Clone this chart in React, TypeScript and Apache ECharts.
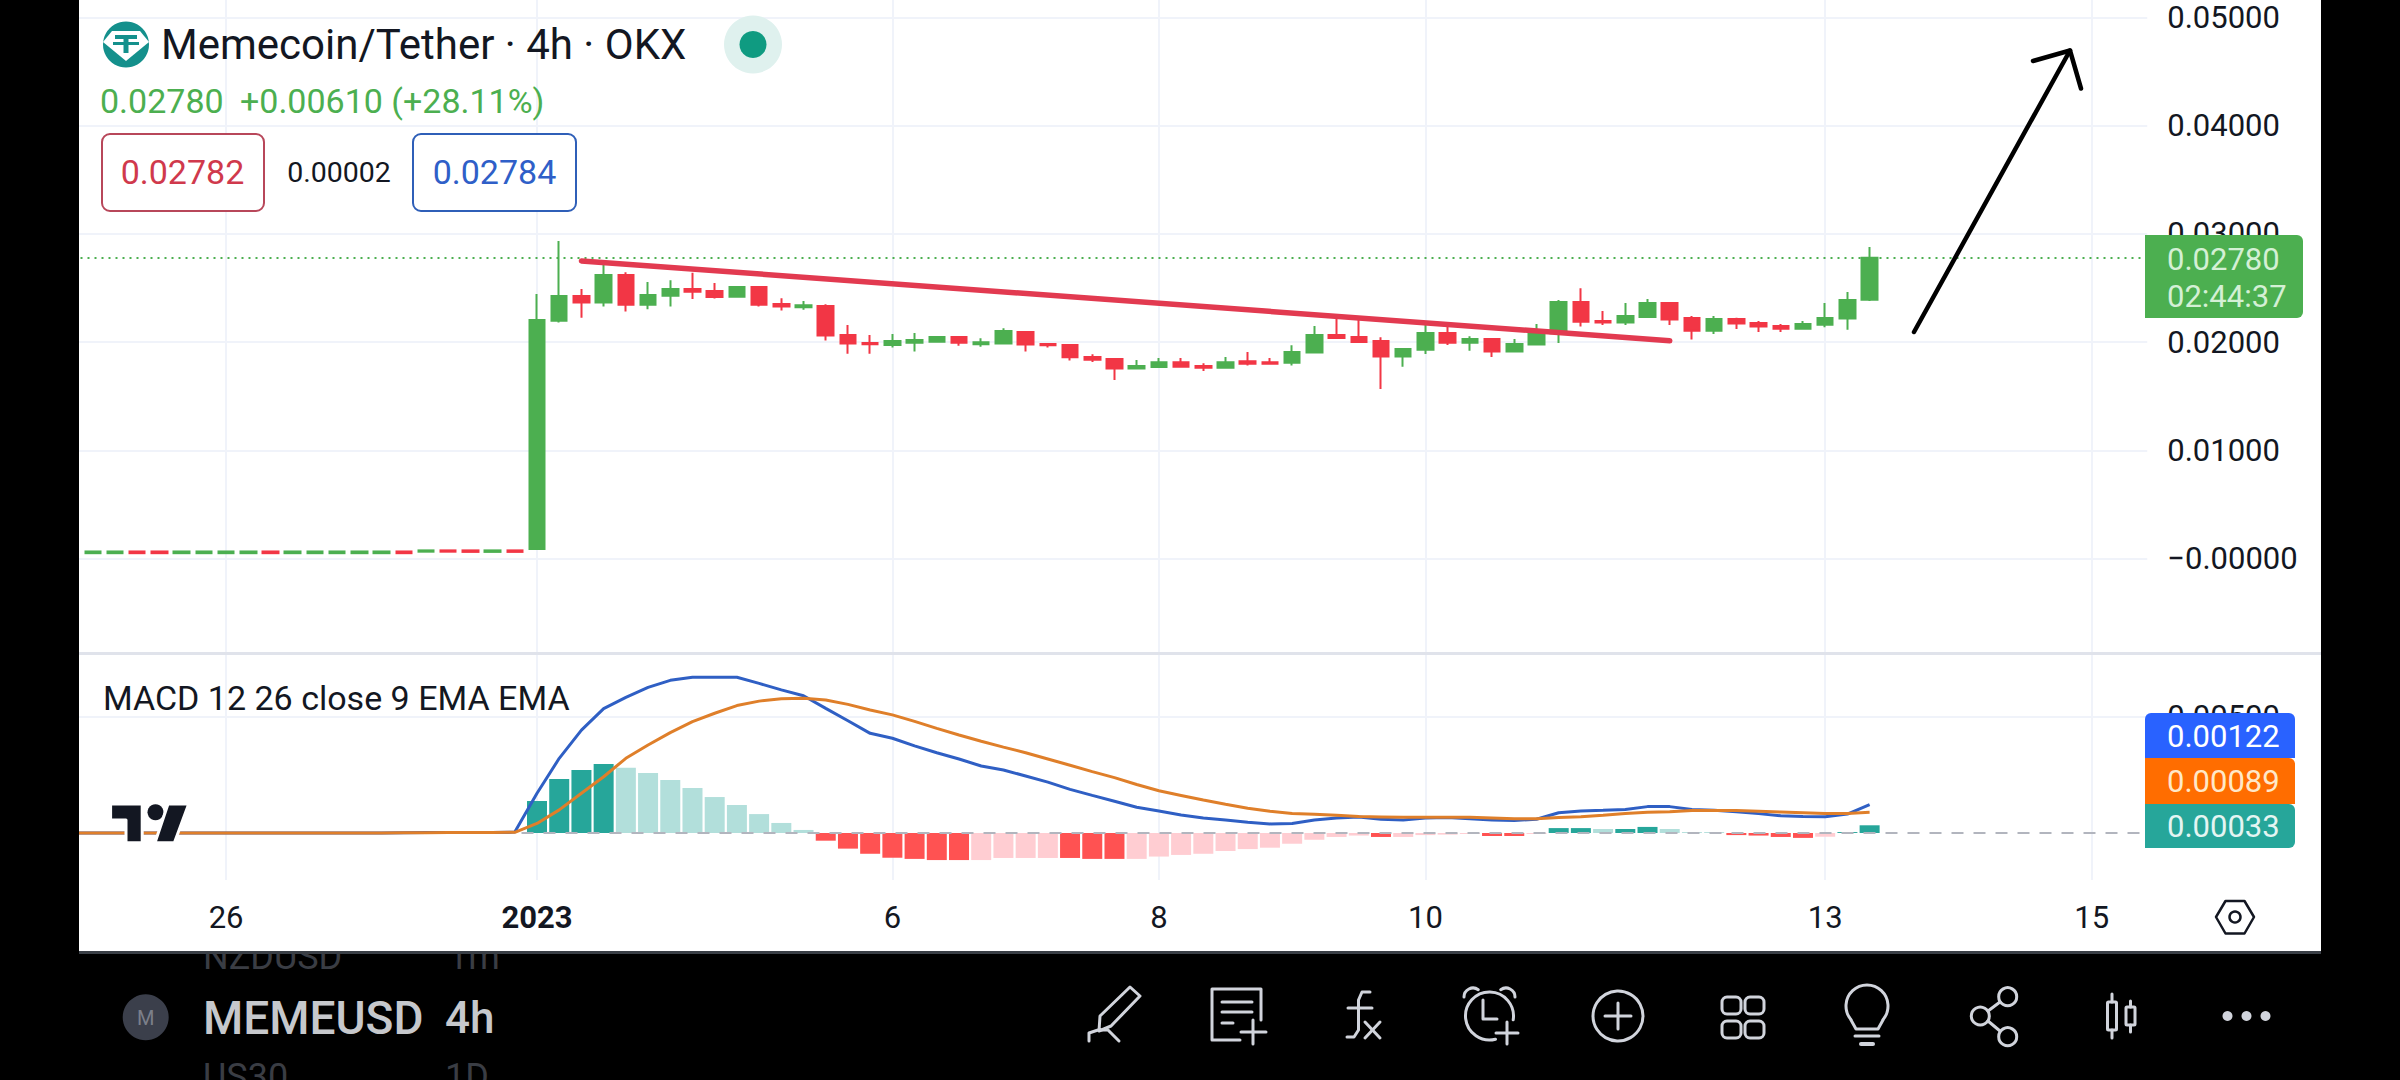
import React, { useEffect, useRef } from "react";
import * as echarts from "echarts";

// open, close, low, high for bars 0..80
const candles: number[][] = [
  [0.00049,0.00065,0.00049,0.00065],[0.00049,0.00065,0.00049,0.00065],[0.00065,0.00049,0.00049,0.00065],[0.00065,0.00049,0.00049,0.00065],
  [0.00049,0.00065,0.00049,0.00065],[0.00049,0.00065,0.00049,0.00065],[0.00049,0.00065,0.00049,0.00065],[0.00049,0.00065,0.00049,0.00065],
  [0.00065,0.00049,0.00049,0.00065],[0.00049,0.00065,0.00049,0.00065],[0.00049,0.00065,0.00049,0.00065],[0.00049,0.00065,0.00049,0.00065],
  [0.00049,0.00065,0.00049,0.00065],[0.00049,0.00065,0.00049,0.00065],[0.00065,0.00049,0.00049,0.00065],[0.00063,0.00075,0.00063,0.00075],
  [0.00075,0.00063,0.00063,0.00075],[0.00075,0.00061,0.00061,0.00075],[0.00061,0.00075,0.00061,0.00075],[0.00075,0.00061,0.00061,0.00075],
  [0.00088,0.02205,0.00088,0.02445],[0.02198,0.02426,0.0218,0.02934],[0.02426,0.02365,0.02226,0.02491],[0.02365,0.0262,0.02328,0.02713],
  [0.0262,0.02346,0.02282,0.02645],[0.02346,0.02436,0.02303,0.02556],[0.02429,0.02491,0.02328,0.02571],[0.02491,0.02466,0.02399,0.02642],
  [0.02473,0.02417,0.02402,0.02546],[0.0242,0.0251,0.02417,0.02519],[0.0251,0.02346,0.02328,0.02513],[0.02352,0.02328,0.02291,0.02405],
  [0.02322,0.0234,0.023,0.0238],[0.02334,0.0206,0.02014,0.02349],[0.02066,0.01986,0.01893,0.02158],[0.01992,0.0198,0.01893,0.02066],
  [0.01973,0.0201,0.01949,0.02075],[0.01995,0.0202,0.01912,0.02084],[0.02004,0.02047,0.01995,0.02057],[0.02047,0.01995,0.01967,0.0205],
  [0.0198,0.01998,0.01958,0.02035],[0.01986,0.02103,0.01977,0.02128],[0.02094,0.01977,0.01912,0.02097],[0.01983,0.0197,0.01949,0.01983],
  [0.01973,0.0186,0.01829,0.01983],[0.01863,0.01838,0.01816,0.01887],[0.01844,0.01755,0.0165,0.0185],[0.01755,0.0178,0.01752,0.01835],
  [0.0177,0.01813,0.01764,0.01853],[0.01813,0.01773,0.0177,0.01853],[0.0178,0.01764,0.01733,0.01804],[0.01764,0.01813,0.01758,0.01863],
  [0.01823,0.01801,0.01783,0.01909],[0.01813,0.01801,0.01798,0.01853],[0.0181,0.01909,0.01783,0.0197],[0.01903,0.02066,0.01903,0.02149],
  [0.02066,0.02038,0.02032,0.02251],[0.02047,0.02001,0.01995,0.02205],[0.0201,0.01866,0.01567,0.02044],[0.01866,0.01937,0.01773,0.01946],
  [0.0193,0.02084,0.0189,0.02161],[0.02084,0.01995,0.01973,0.02143],[0.01995,0.02029,0.01921,0.02054],[0.02029,0.01912,0.01863,0.02038],
  [0.01912,0.01983,0.01909,0.02029],[0.01977,0.02094,0.01973,0.02168],[0.02081,0.02371,0.01992,0.02389],[0.02371,0.02189,0.02143,0.02497],
  [0.02195,0.0218,0.02158,0.02288],[0.0218,0.02241,0.02158,0.02362],[0.02232,0.02362,0.02229,0.02399],[0.02362,0.02208,0.02158,0.02371],
  [0.02223,0.02106,0.02023,0.02241],[0.02106,0.02214,0.02075,0.02241],[0.02214,0.02171,0.02121,0.02226],[0.02177,0.02143,0.02094,0.02195],
  [0.02149,0.02124,0.02094,0.02168],[0.02124,0.02168,0.02118,0.02195],[0.02161,0.02223,0.02137,0.02362],[0.02217,0.02389,0.02115,0.02463],
  [0.02392,0.0278,0.0238,0.02879],
];

// MACD line, bars -1..80
const macdLine = [
  0,0,0,0,0,0,0,0,0,0,0,0,0,0,0,0.00001,0.00002,0.00002,0.00002,0.00002,0.00004,
  0.0017,0.0032,0.00441,0.00533,0.00581,0.00624,0.00654,0.00667,0.00667,0.00667,0.00641,0.00613,0.00588,0.00534,0.00481,0.00427,
  0.00406,0.00373,0.00344,0.00317,0.00287,0.0027,0.00244,0.00218,0.00187,0.00161,0.00136,0.0011,0.00094,0.00077,0.00064,0.00056,
  0.00046,0.00039,0.00041,0.00056,0.00064,0.00069,0.00059,0.00056,0.00064,0.00066,0.00061,0.00056,0.00054,0.00059,0.00087,0.00094,
  0.00097,0.00101,0.00113,0.00113,0.00101,0.00097,0.00091,0.00083,0.00074,0.00071,0.0007,0.00081,0.00122,
];
const signalLine = [
  0,0,0,0,0,0,0,0,0,0,0,0,0,0,0,0.00001,0.00001,0.00002,0.00002,0.00002,0.00003,
  0.00041,0.00099,0.0017,0.00241,0.0032,0.00377,0.0043,0.00477,0.00513,0.00546,0.00565,0.00575,0.00577,0.0057,0.00551,0.00527,
  0.00506,0.00478,0.00448,0.0042,0.00393,0.00368,0.00344,0.00317,0.0029,0.00263,0.00237,0.00208,0.00181,0.00161,0.00141,0.00123,
  0.00106,0.00093,0.00084,0.0008,0.00076,0.00071,0.00069,0.00067,0.00067,0.00067,0.00067,0.00064,0.00061,0.00061,0.00066,0.0007,
  0.00076,0.00083,0.00089,0.00091,0.00096,0.00096,0.00096,0.00093,0.0009,0.00087,0.00084,0.00084,0.00089,
];
// histogram, bars 20..80
const histValues = [
  0.00137,0.00231,0.0027,0.00296,0.00279,0.00257,0.00227,0.00193,0.00154,0.0012,0.00081,0.00043,0.00013,
  -0.00033,-0.00067,-0.00089,-0.00106,-0.00111,-0.00116,-0.00116,-0.00116,-0.00107,-0.00107,-0.00107,-0.00107,-0.00111,-0.00111,-0.00111,
  -0.00101,-0.00094,-0.00089,-0.00077,-0.00069,-0.00063,-0.00046,-0.00029,-0.00017,-0.00011,-0.00017,-0.00017,-0.00009,-0.00007,-0.00004,
  -0.00013,-0.00013,-0.00004,0.00021,0.00021,0.00017,0.00017,0.00026,0.00017,0.00004,0.00004,-0.00009,-0.00011,-0.00017,-0.00021,-0.00016,0.00004,0.00033,
];
const histKinds = "TTTTtttttttttRRRRRRRrrrrRRRrrrrrrrrrrrRrrrrRRrTTtTTtttRRRRrTT".split("");
const histColors: Record<string, string> = { T: "#26a69a", t: "#b2dfdb", R: "#ff5252", r: "#ffcdd2" };

const tickBars = [6, 20, 36, 48, 60, 78, 90];
const tickLabels = ["26", "2023", "6", "8", "10", "13", "15"];
const priceTicks = [0, 0.01, 0.02, 0.03, 0.04, 0.05];
const macdTicks = [0.005];
const trendBars = [22, 71];
const trendValues = [0.0275, 0.02013];
const lastClose = 0.0278;
const TOTAL_SLOTS = 94;
const categories = Array.from({ length: TOTAL_SLOTS }, (_, i) => String(i - 1));

const UP = "#4caf50";
const DOWN = "#f23645";
const INK = "#131722";
const GRID = "#f0f3fa";
const FONT = "Roboto";
const ICON = "#d1d4dc";

const txt = (text: string, x: number, y: number, size: number, fill: string, z = 80, align = "left", weight = 400) => ({
  type: "text", silent: true, z,
  style: { text, x, y, fill, font: `${weight} ${size}px ${FONT}`, align, textAlign: align, verticalAlign: "middle", textVerticalAlign: "middle" },
});
const box = (x: number, y: number, width: number, height: number, fill: string, z = 70, r: any = 0, stroke?: string, lineWidth = 2) => ({
  type: "rect", silent: true, z, shape: { x, y, width, height, r },
  style: { fill, stroke, lineWidth },
});
const seg = (points: number[][], stroke = ICON, lineWidth = 3, z = 80) => ({
  type: "polyline", silent: true, z, shape: { points },
  style: { stroke, lineWidth, fill: "none", lineCap: "round", lineJoin: "round" },
});
const poly = (points: number[][], fill: string, z = 80, stroke?: string, lineWidth = 0) => ({
  type: "polygon", silent: true, z, shape: { points }, style: { fill, stroke, lineWidth, lineJoin: "round" },
});
const disc = (cx: number, cy: number, r: number, fill: string, z = 80, stroke?: string, lineWidth = 0) => ({
  type: "circle", silent: true, z, shape: { cx, cy, r }, style: { fill, stroke, lineWidth },
});
const ring = (cx: number, cy: number, r: number, lineWidth = 3, stroke = ICON, z = 80) => disc(cx, cy, r, "none", z, stroke, lineWidth);
const arc = (cx: number, cy: number, r: number, startAngle: number, endAngle: number, stroke = ICON) => ({
  type: "arc", silent: true, z: 80, shape: { cx, cy, r, startAngle, endAngle },
  style: { stroke, lineWidth: 3, fill: "none", lineCap: "round" },
});

const chrome: any[] = [
  // frame
  box(0, 0, 79, 1080, "#000", 50),
  box(2321, 0, 79, 1080, "#000", 50),
  box(0, 951, 2400, 129, "#000", 50),
  txt("NZDUSD", 203, 957, 36, "#3a3d44", 52),
  txt("1m", 448, 957, 36, "#3a3d44", 52),
  box(190, 932, 320, 19, "#ffffff", 53),
  box(79, 951, 2242, 3, "#3a3f46", 54),
  box(79, 652, 2242, 3, "#e0e3eb", 45),

  // header
  disc(126, 44.5, 23, "#14908c"),
  poly([[112, 31], [140, 31], [149, 42], [126, 61], [103, 42]], "#ffffff", 81),
  box(115, 35, 22, 4, "#14908c", 82),
  box(123.5, 35, 5, 18, "#14908c", 82),
  box(113, 42, 26, 3, "#14908c", 82),
  txt("Memecoin/Tether · 4h · OKX", 161, 44, 42, INK),
  disc(753, 44.5, 29, "#dff1ee"),
  disc(753, 44.5, 13.5, "#0f9b81", 81),
  txt("0.02780", 100, 100.5, 34, UP),
  txt("+0.00610 (+28.11%)", 240, 100.5, 34, UP),
  box(102, 134, 162, 77, "#ffffff", 60, 8, "#b8475a"),
  txt("0.02782", 182.5, 172, 34, "#d0394c", 80, "center"),
  txt("0.00002", 339, 172, 28.5, INK, 80, "center"),
  box(413, 134, 163, 77, "#ffffff", 60, 8, "#2f5fb8"),
  txt("0.02784", 494.5, 172, 34, "#2f5fc8", 80, "center"),

  // arrow drawn on the chart
  seg([[1914, 332], [2070, 50.5]], "#000000", 4.5, 30),
  seg([[2033, 61], [2070, 50.5], [2081, 88.5]], "#000000", 4.5, 30),

  // last-price tag
  box(2145, 235, 158, 83, UP, 60, [0, 6, 6, 0]),
  txt("0.02780", 2167, 259, 31, "#d4f0d5"),
  txt("02:44:37", 2167, 296, 31, "#d4f0d5"),

  // MACD pane
  txt("MACD 12 26 close 9 EMA EMA", 103, 698, 34, INK),
  box(2145, 713, 150, 45, "#2962ff", 60, [6, 6, 0, 0]),
  box(2145, 758, 150, 46, "#ff6d00", 60, [0, 6, 0, 0]),
  box(2145, 804, 150, 44, "#26a69a", 60, [0, 6, 6, 0]),
  txt("0.00122", 2167, 736, 31, "#ffffff"),
  txt("0.00089", 2167, 781, 31, "#ffe8c8"),
  txt("0.00033", 2167, 826, 31, "#e4f5f2"),

  // TradingView mark
  poly([[110.6, 804], [142.2, 804], [142.2, 842.7], [126, 842.7], [126, 820], [110.6, 820]], INK, 40, "#ffffff", 3),
  disc(155.5, 812.3, 8, INK, 40),
  poly([[168, 804], [188.7, 804], [174.4, 842.7], [155, 842.7]], INK, 40, "#ffffff", 3),

  // settings hexagon
  poly([[2216, 917], [2225.5, 901], [2244.5, 901], [2254, 917], [2244.5, 933.5], [2225.5, 933.5]], "none", 60, INK, 2.5),
  ring(2235, 917, 5.5, 2.5, INK, 60),

  // symbol list
  disc(145.7, 1017.3, 23, "#3b3f4b", 60),
  txt("M", 145.7, 1018, 20, "#7b7f8a", 61, "center"),
  txt("MEMEUSD", 203, 1018, 46, "#c6c8cc", 61, "left", 500),
  txt("4h", 445, 1018, 44, "#c6c8cc", 61, "left", 500),
  txt("US30", 203, 1077, 36, "#3a3d44", 61),
  txt("1D", 445, 1077, 36, "#3a3d44", 61),

  // pencil
  poly([[1130, 987], [1140, 996], [1111, 1026], [1099, 1031], [1100, 1016]], "none", 60, ICON, 3),
  seg([[1089, 1041], [1089, 1033], [1098, 1030], [1108, 1030], [1119, 1041]]),
  // note
  seg([[1261, 1020], [1261, 989], [1212, 989], [1212, 1040], [1240, 1040]]),
  seg([[1222, 1002], [1252, 1002]]),
  seg([[1222, 1012], [1252, 1012]]),
  seg([[1222, 1023], [1233, 1023]]),
  seg([[1253, 1020], [1253, 1044]]),
  seg([[1241, 1032], [1266, 1032]]),
  // fx
  seg([[1370, 992], [1362, 992], [1358.5, 1000], [1358.5, 1030], [1354, 1037], [1347, 1037]]),
  seg([[1348, 1008], [1372, 1008]]),
  seg([[1365, 1022], [1380, 1038]]),
  seg([[1380, 1022], [1365, 1038]]),
  // alarm
  arc(1489.5, 1016, 24, Math.PI * 0.42, Math.PI * 2.05),
  seg([[1483, 1000], [1483, 1019], [1497, 1019]]),
  arc(1473, 997, 9, Math.PI * 1.0, Math.PI * 1.7),
  arc(1506, 997, 9, Math.PI * 1.3, Math.PI * 2.0),
  seg([[1507, 1022], [1507, 1044]]),
  seg([[1496, 1033], [1518, 1033]]),
  // plus
  ring(1618, 1016, 25),
  seg([[1618, 1003], [1618, 1029]]),
  seg([[1605, 1016], [1631, 1016]]),
  // layout
  box(1722, 997, 19, 17, "none", 60, 5, ICON, 3),
  box(1745, 997, 19, 17, "none", 60, 5, ICON, 3),
  box(1722, 1021, 19, 17, "none", 60, 5, ICON, 3),
  box(1745, 1021, 19, 17, "none", 60, 5, ICON, 3),
  // bulb
  arc(1867, 1006, 21, Math.PI * 0.78, Math.PI * 2.22),
  seg([[1851, 1020], [1856, 1029], [1878, 1029], [1883, 1020]]),
  seg([[1855, 1036], [1879, 1036]]),
  seg([[1861, 1044], [1873, 1044]], ICON, 4),
  // share
  ring(2007.7, 996.7, 9),
  ring(1980.3, 1016, 9),
  ring(2007.7, 1036.7, 9),
  seg([[1988, 1011], [2000, 1002]]),
  seg([[1988, 1021], [2000, 1031]]),
  // candles
  box(2107.5, 1002, 9, 28, "none", 60, 1, ICON, 3),
  seg([[2112, 994], [2112, 1002]]),
  seg([[2112, 1030], [2112, 1038]]),
  box(2126, 1007, 9, 18, "none", 60, 1, ICON, 3),
  seg([[2130.5, 1001], [2130.5, 1007]]),
  seg([[2130.5, 1025], [2130.5, 1032]]),
  // more
  disc(2227.5, 1016, 5, ICON, 60),
  disc(2246.5, 1016, 5, ICON, 60),
  disc(2265.5, 1016, 5, ICON, 60),
];

const App = () => {
  const ref = useRef<HTMLDivElement>(null);
  useEffect(() => {
    const chart = echarts.init(ref.current!, undefined, { renderer: "svg" });
    const gridStyle = { color: GRID, width: 2, type: "solid" };
    const vLines = tickBars.map((b) => ({ xAxis: b + 1, lineStyle: gridStyle }));
    const slotX = (b: number) => b + 1;
    const markBase = { silent: true, symbol: "none", label: { show: false }, animation: false, precision: 6 };
    chart.setOption({
      animation: false,
      backgroundColor: "#ffffff",
      textStyle: { fontFamily: FONT },
      graphic: { elements: chrome },
      grid: [
        { left: 59.5, top: 0, width: TOTAL_SLOTS * 22.21, height: 653 },
        { left: 59.5, top: 655, width: TOTAL_SLOTS * 22.21, height: 225 },
      ],
      xAxis: [
        { type: "category", gridIndex: 0, data: categories, show: false },
        {
          type: "category", gridIndex: 1, data: categories,
          axisLine: { show: false }, axisTick: { show: false }, splitLine: { show: false },
          axisLabel: {
            show: true, margin: 22, fontFamily: FONT, fontSize: 31, color: INK, hideOverlap: false,
            interval: (i: number) => tickBars.includes(i - 1),
            formatter: (name: string) => {
              const label = tickLabels[tickBars.indexOf(Number(name))];
              return label === "2023" ? "{b|2023}" : label;
            },
            rich: { b: { fontFamily: FONT, fontSize: 31, fontWeight: 700, color: INK } },
          },
        },
      ],
      yAxis: [
        {
          type: "value", gridIndex: 0, position: "right", min: -0.008734, max: 0.051617,
          axisLine: { show: false }, axisTick: { show: false }, splitLine: { show: false },
          axisLabel: {
            customValues: priceTicks, margin: 20, padding: [3, 0, 0, 0], fontFamily: FONT, fontSize: 31, color: INK,
            formatter: (v: number) => (v === 0 ? "−0.00000" : v.toFixed(5)),
          },
        },
        {
          type: "value", gridIndex: 1, position: "right", min: -0.002014, max: 0.007626,
          axisLine: { show: false }, axisTick: { show: false }, splitLine: { show: false },
          axisLabel: {
            customValues: macdTicks, margin: 20, padding: [3, 0, 0, 0], fontFamily: FONT, fontSize: 31, color: INK,
            formatter: (v: number) => v.toFixed(5),
          },
        },
      ],
      series: [
        {
          type: "line", xAxisIndex: 0, yAxisIndex: 0, data: [], z: 1, silent: true,
          markLine: { ...markBase, z: 1, data: [...priceTicks.map((v) => ({ yAxis: v, lineStyle: gridStyle })), ...vLines] },
        },
        {
          type: "candlestick", xAxisIndex: 0, yAxisIndex: 0, z: 2, barWidth: 16, silent: true,
          data: [null, ...candles].map((c) => c ?? "-"),
          itemStyle: { color: UP, color0: DOWN, borderColor: UP, borderColor0: DOWN, borderWidth: 2 },
        },
        {
          type: "line", xAxisIndex: 0, yAxisIndex: 0, data: [], z: 3, silent: true,
          markLine: { ...markBase, z: 3, data: [{ yAxis: lastClose, lineStyle: { color: UP, width: 2, type: [2, 5] } }] },
        },
        {
          type: "line", xAxisIndex: 0, yAxisIndex: 0, z: 4, silent: true, showSymbol: false,
          data: trendBars.map((b, i) => [slotX(b), trendValues[i]]),
          lineStyle: { color: "#e23a50", width: 5.5, cap: "round" },
        },
        {
          type: "line", xAxisIndex: 1, yAxisIndex: 1, data: [], z: 1, silent: true,
          markLine: { ...markBase, z: 1, data: [...macdTicks.map((v) => ({ yAxis: v, lineStyle: gridStyle })), ...vLines] },
        },
        {
          type: "bar", xAxisIndex: 1, yAxisIndex: 1, z: 2, barWidth: 20, silent: true,
          data: categories.map((_, slot) => {
            const h = slot - 21;
            if (h < 0 || h >= histValues.length) return "-";
            return { value: histValues[h], itemStyle: { color: histColors[histKinds[h]] } };
          }),
        },
        {
          type: "line", xAxisIndex: 1, yAxisIndex: 1, data: [], z: 3, silent: true,
          markLine: { ...markBase, z: 3, data: [{ yAxis: 0, lineStyle: { color: "#b2b5be", width: 2, type: [12, 10] } }] },
        },
        {
          type: "line", xAxisIndex: 1, yAxisIndex: 1, z: 4, silent: true, showSymbol: false,
          data: macdLine, lineStyle: { color: "#2f5fc4", width: 3 },
        },
        {
          type: "line", xAxisIndex: 1, yAxisIndex: 1, z: 5, silent: true, showSymbol: false,
          data: signalLine, lineStyle: { color: "#df7f2a", width: 3 },
        },
      ],
    });
    return () => chart.dispose();
  }, []);
  return <div ref={ref} style={{ position: "absolute", left: 0, top: 0, width: 2400, height: 1080 }} />;
};

export default App;
